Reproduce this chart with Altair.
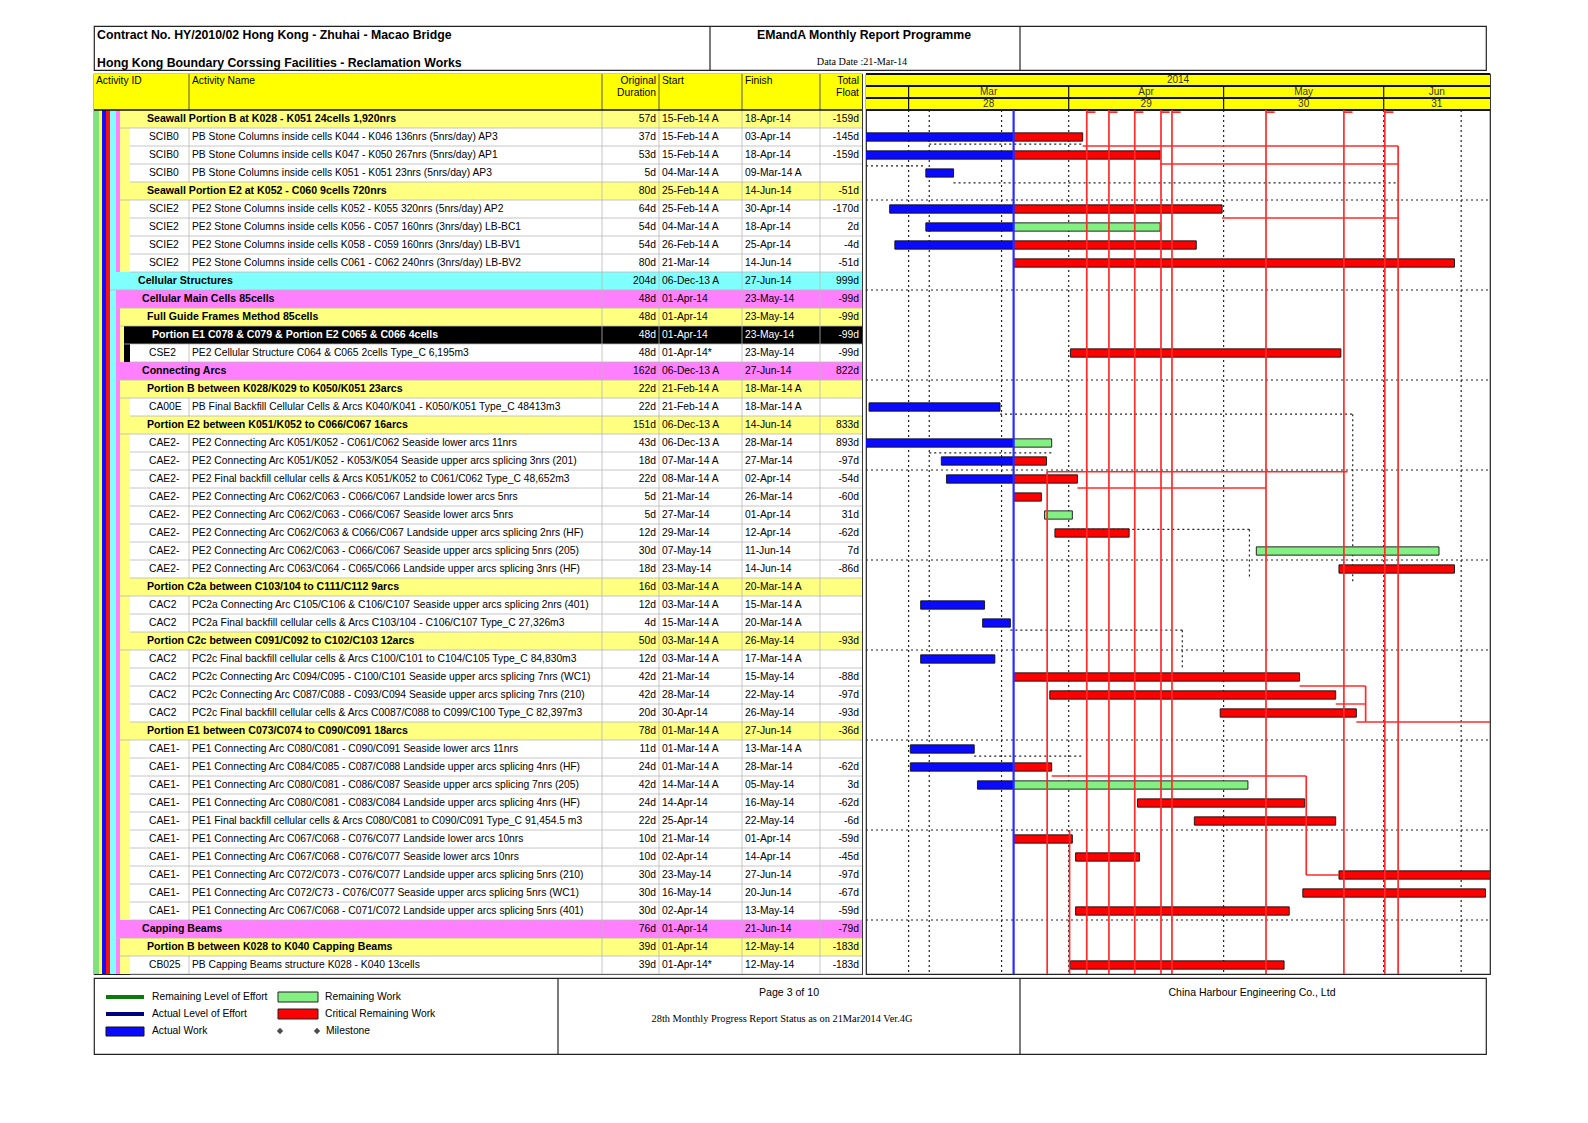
import altair as alt
import pandas as pd

SANS = "Liberation Sans"
SERIF = "Liberation Serif"

levels = [3, 5, 5, 5, 3, 5, 5, 5, 5, 1, 2, 3, 4, 5, 2, 3, 5, 3, 5, 5, 5, 5, 5, 5, 5, 5,
          3, 5, 5, 3, 5, 5, 5, 5, 3, 5, 5, 5, 5, 5, 5, 5, 5, 5, 5, 2, 3, 5]

act_ids = ["", "SCIB0", "SCIB0", "SCIB0", "", "SCIE2", "SCIE2", "SCIE2", "SCIE2",
           "", "", "", "", "CSE2", "", "", "CA00E", "",
           "CAE2-", "CAE2-", "CAE2-", "CAE2-", "CAE2-", "CAE2-", "CAE2-", "CAE2-",
           "", "CAC2", "CAC2", "", "CAC2", "CAC2", "CAC2", "CAC2", "",
           "CAE1-", "CAE1-", "CAE1-", "CAE1-", "CAE1-", "CAE1-", "CAE1-", "CAE1-", "CAE1-", "CAE1-",
           "", "", "CB025"]

names = [
    "Seawall Portion B at K028 -  K051 24cells 1,920nrs",
    "PB Stone Columns inside cells K044 - K046 136nrs (5nrs/day) AP3",
    "PB Stone Columns inside cells K047 - K050 267nrs (5nrs/day) AP1",
    "PB Stone Columns inside cells K051 - K051 23nrs (5nrs/day) AP3",
    "Seawall Portion E2 at K052 - C060 9cells 720nrs",
    "PE2 Stone Columns inside cells K052 - K055 320nrs (5nrs/day) AP2",
    "PE2 Stone Columns inside cells K056 - C057 160nrs (3nrs/day) LB-BC1",
    "PE2 Stone Columns inside cells K058 - C059 160nrs (3nrs/day) LB-BV1",
    "PE2 Stone Columns inside cells C061 - C062 240nrs (3nrs/day) LB-BV2",
    "Cellular Structures",
    "Cellular Main Cells 85cells",
    "Full Guide Frames Method 85cells",
    "Portion E1 C078 & C079 & Portion E2 C065 & C066 4cells",
    "PE2 Cellular Structure C064 & C065 2cells Type_C 6,195m3",
    "Connecting Arcs",
    "Portion B between K028/K029 to K050/K051 23arcs",
    "PB Final Backfill Cellular Cells & Arcs K040/K041 - K050/K051 Type_C 48413m3",
    "Portion E2 between K051/K052 to C066/C067 16arcs",
    "PE2 Connecting Arc K051/K052 - C061/C062 Seaside lower arcs 11nrs",
    "PE2 Connecting Arc K051/K052 - K053/K054 Seaside upper arcs splicing 3nrs (201)",
    "PE2 Final backfill cellular cells & Arcs K051/K052 to C061/C062 Type_C 48,652m3",
    "PE2 Connecting Arc C062/C063 - C066/C067 Landside lower arcs 5nrs",
    "PE2 Connecting Arc C062/C063 - C066/C067 Seaside lower arcs 5nrs",
    "PE2 Connecting Arc C062/C063 & C066/C067 Landside upper arcs splicing 2nrs (HF)",
    "PE2 Connecting Arc C062/C063 - C066/C067 Seaside upper arcs splicing 5nrs (205)",
    "PE2 Connecting Arc C063/C064 - C065/C066 Landside upper arcs splicing 3nrs (HF)",
    "Portion C2a between C103/104 to C111/C112 9arcs",
    "PC2a Connecting Arc C105/C106 & C106/C107 Seaside upper arcs splicing 2nrs (401)",
    "PC2a Final backfill cellular cells & Arcs C103/104 - C106/C107 Type_C 27,326m3",
    "Portion C2c between C091/C092 to C102/C103 12arcs",
    "PC2c Final backfill cellular cells & Arcs C100/C101 to C104/C105 Type_C 84,830m3",
    "PC2c Connecting Arc C094/C095 - C100/C101 Seaside upper arcs splicing 7nrs (WC1)",
    "PC2c Connecting Arc C087/C088 - C093/C094 Seaside upper arcs splicing 7nrs (210)",
    "PC2c Final backfill cellular cells & Arcs C0087/C088 to C099/C100 Type_C 82,397m3",
    "Portion E1 between C073/C074 to C090/C091 18arcs",
    "PE1 Connecting Arc C080/C081 - C090/C091 Seaside lower arcs 11nrs",
    "PE1 Connecting Arc C084/C085 - C087/C088 Landside upper arcs splicing 4nrs (HF)",
    "PE1 Connecting Arc C080/C081 - C086/C087 Seaside upper arcs splicing 7nrs (205)",
    "PE1 Connecting Arc C080/C081 - C083/C084 Landside upper arcs splicing 4nrs (HF)",
    "PE1 Final backfill cellular cells & Arcs C080/C081 to C090/C091 Type_C 91,454.5 m3",
    "PE1 Connecting Arc C067/C068 - C076/C077 Landside lower arcs 10nrs",
    "PE1 Connecting Arc C067/C068 - C076/C077 Seaside lower arcs 10nrs",
    "PE1 Connecting Arc C072/C073 - C076/C077 Landside upper arcs splicing 5nrs (210)",
    "PE1 Connecting Arc C072/C73 - C076/C077 Seaside upper arcs splicing 5nrs (WC1)",
    "PE1 Connecting Arc C067/C068 - C071/C072 Landside upper arcs splicing 5nrs (401)",
    "Capping Beams",
    "Portion B between K028 to K040 Capping Beams",
    "PB Capping Beams structure K028 - K040 13cells",
]

durations = ["57d", "37d", "53d", "5d", "80d", "64d", "54d", "54d", "80d", "204d", "48d", "48d",
             "48d", "48d", "162d", "22d", "22d", "151d", "43d", "18d", "22d", "5d", "5d", "12d",
             "30d", "18d", "16d", "12d", "4d", "50d", "12d", "42d", "42d", "20d", "78d", "11d",
             "24d", "42d", "24d", "22d", "10d", "10d", "30d", "30d", "30d", "76d", "39d", "39d"]

starts = ["15-Feb-14 A", "15-Feb-14 A", "15-Feb-14 A", "04-Mar-14 A", "25-Feb-14 A", "25-Feb-14 A",
          "04-Mar-14 A", "26-Feb-14 A", "21-Mar-14", "06-Dec-13 A", "01-Apr-14", "01-Apr-14",
          "01-Apr-14", "01-Apr-14*", "06-Dec-13 A", "21-Feb-14 A", "21-Feb-14 A", "06-Dec-13 A",
          "06-Dec-13 A", "07-Mar-14 A", "08-Mar-14 A", "21-Mar-14", "27-Mar-14", "29-Mar-14",
          "07-May-14", "23-May-14", "03-Mar-14 A", "03-Mar-14 A", "15-Mar-14 A", "03-Mar-14 A",
          "03-Mar-14 A", "21-Mar-14", "28-Mar-14", "30-Apr-14", "01-Mar-14 A", "01-Mar-14 A",
          "01-Mar-14 A", "14-Mar-14 A", "14-Apr-14", "25-Apr-14", "21-Mar-14", "02-Apr-14",
          "23-May-14", "16-May-14", "02-Apr-14", "01-Apr-14", "01-Apr-14", "01-Apr-14*"]

finishes = ["18-Apr-14", "03-Apr-14", "18-Apr-14", "09-Mar-14 A", "14-Jun-14", "30-Apr-14",
            "18-Apr-14", "25-Apr-14", "14-Jun-14", "27-Jun-14", "23-May-14", "23-May-14",
            "23-May-14", "23-May-14", "27-Jun-14", "18-Mar-14 A", "18-Mar-14 A", "14-Jun-14",
            "28-Mar-14", "27-Mar-14", "02-Apr-14", "26-Mar-14", "01-Apr-14", "12-Apr-14",
            "11-Jun-14", "14-Jun-14", "20-Mar-14 A", "15-Mar-14 A", "20-Mar-14 A", "26-May-14",
            "17-Mar-14 A", "15-May-14", "22-May-14", "26-May-14", "27-Jun-14", "13-Mar-14 A",
            "28-Mar-14", "05-May-14", "16-May-14", "22-May-14", "01-Apr-14", "14-Apr-14",
            "27-Jun-14", "20-Jun-14", "13-May-14", "21-Jun-14", "12-May-14", "12-May-14"]

floats = ["-159d", "-145d", "-159d", "", "-51d", "-170d", "2d", "-4d", "-51d", "999d", "-99d", "-99d",
          "-99d", "-99d", "822d", "", "", "833d", "893d", "-97d", "-54d", "-60d", "31d", "-62d",
          "7d", "-86d", "", "", "", "-93d", "", "-88d", "-97d", "-93d", "-36d", "",
          "-62d", "3d", "-62d", "-6d", "-59d", "-45d", "-97d", "-67d", "-59d", "-79d", "-183d", "-183d"]

data_date = "2014-03-21T08:00:00"

# timescale
month_starts = ["2014-03-01", "2014-04-01", "2014-05-01", "2014-06-01"]
month_ends = ["2014-04-01", "2014-05-01", "2014-06-01", "2014-07-01"]
month_names = ["Mar", "Apr", "May", "Jun"]
period_nums = ["28", "29", "30", "31"]
grid_dates = ["2014-03-01", "2014-03-05", "2014-03-19", "2014-04-01", "2014-05-01",
              "2014-06-01", "2014-06-16"]

# driving relationship lines (red)
link_v_dates = ["2014-04-04T12:00", "2014-04-08T19:00", "2014-04-13T19:00", "2014-04-18T21:00",
                "2014-04-21T00:00", "2014-05-09T05:00", "2014-05-24T07:00", "2014-06-01T05:00",
                "2014-06-03T19:00", "2014-03-27T20:00", "2014-04-01T04:00", "2014-05-28T12:00",
                "2014-05-17T00:00"]
link_v_from = [0, 0, 0, 0, 0, 0, 0, 0, 2, 20.1, 40, 32.0, 37.0]
link_v_to = [48, 48, 48, 48, 48, 48, 48, 48, 48, 48, 48, 34.0, 42.5]
link_h_rows = [2.0, 3.0, 6.0, 20.1, 21.0, 34.0, 37.0, 32.0, 33.0, 42.5]
link_h_from = ["2014-04-03T17:00", "2014-04-18T17:00", "2014-04-30T17:00", "2014-03-27T17:00",
               "2014-04-02T17:00", "2014-05-26T17:00", "2014-03-28T17:00", "2014-05-15T17:00",
               "2014-05-22T17:00", "2014-05-17T00:00"]
link_h_to = ["2014-06-03T19:00", "2014-06-03T19:00", "2014-06-03T19:00", "2014-05-25T00:00",
             "2014-05-09T05:00", "2014-06-22T00:00", "2014-05-17T00:00", "2014-05-28T12:00",
             "2014-05-28T12:00", "2014-05-23T08:00"]

# non-driving relationship lines (black dotted)
dot_h_rows = [1.9, 3.1, 4.05, 16.9, 19.05, 23.3, 28.9, 35.9]
dot_h_from = ["2014-03-05T00:00", "2014-02-20T18:00", "2014-03-09T17:00", "2014-03-18T17:00",
              "2014-03-05T00:00", "2014-04-01T17:00", "2014-03-20T17:00", "2014-03-13T17:00"]
dot_h_to = ["2014-04-03T17:00", "2014-03-04T08:00", "2014-06-03T19:00", "2014-05-26T00:00",
            "2014-03-28T17:00", "2014-05-06T00:00", "2014-04-23T00:00", "2014-04-04T00:00"]
dot_v_dates = ["2014-05-26T00:00", "2014-05-06T00:00", "2014-04-23T00:00"]
dot_v_from = [16.9, 23.3, 28.9]
dot_v_to = [26.3, 26.0, 31.0]

# ---------------- styling / layout ----------------
BLUE, RED, GREEN = "#0a0aff", "#ff0000", "#84f084"
LINKRED = "#ff2a2a"
band_fill = {1: "#80ffff", 2: "#ff80ff", 3: "#ffff80", 4: "#000000", 5: "#ffffff"}
band_x = {1: 16, 2: 22, 3: 26, 4: 30, 5: 36}
text_x = {1: 44, 2: 48, 3: 53, 4: 58}
TW, GW, MH = 768, 624, 900
FS = 10.3
ys = alt.Scale(domain=[-2, 48], reverse=True, nice=False, zero=False)
xg = alt.Scale(domain=[alt.DateTime(year=2014, month=2, date=20, hours=18),
                       alt.DateTime(year=2014, month=6, date=21, hours=14)], nice=False)
ONE = alt.Data(values=[{"a": 1}])


def iso(ts):
    return ts.strftime("%Y-%m-%dT%H:%M:%S")


def day(s):
    return pd.to_datetime(s.replace(" A", "").replace("*", "").strip(), format="%d-%b-%y")


def txt(s, x, y, size=FS, weight="normal", align="left", font=SANS, color="black"):
    return alt.Chart(ONE).mark_text(text=s, align=align, baseline="middle", fontSize=size,
                                    fontWeight=weight, font=font, color=color).encode(
        x=alt.value(x), y=alt.value(y))


def box(x0, x1, y0, y1, fill, stroke=None, sw=1.0):
    kw = {"fill": fill}
    if stroke:
        kw.update(stroke=stroke, strokeWidth=sw)
    return alt.Chart(ONE).mark_rect(**kw).encode(
        x=alt.value(x0), x2=alt.value(x1), y=alt.value(y0), y2=alt.value(y1))


def vrule(x, y0, y1, color="#222", sw=1.0):
    return alt.Chart(ONE).mark_rule(color=color, strokeWidth=sw).encode(
        x=alt.value(x), y=alt.value(y0), y2=alt.value(y1))


def hrule(x0, x1, y, color="#222", sw=1.0):
    return alt.Chart(ONE).mark_rule(color=color, strokeWidth=sw).encode(
        x=alt.value(x0), x2=alt.value(x1), y=alt.value(y))


# ---------------- build tables from the arrays ----------------
rows, strips = [], []
stack = {1: band_fill[1], 2: band_fill[2]}
for i, L in enumerate(levels):
    grp = L < 5
    fill = band_fill[L]
    anc = sorted(k for k in stack if k < L)
    for j, k in enumerate(anc):
        x1 = band_x[anc[j + 1]] if j + 1 < len(anc) else band_x[L]
        strips.append({"x0": band_x[k], "x1": x1, "y0": i, "y1": i + 1, "c": stack[k]})
    if grp:
        stack[L] = fill
        for k in list(stack):
            if k > L:
                del stack[k]
    rows.append({
        "i": i, "y0": i, "y1": i + 1, "yc": i + 0.5,
        "bx": band_x[L], "fill": fill, "grp": grp,
        "tc": "white" if L == 4 else "black",
        "gname": names[i] if grp else "", "aname": "" if grp else names[i],
        "tx": text_x.get(L, 0), "aid": act_ids[i],
        "dur": durations[i], "start": starts[i], "finish": finishes[i], "flt": floats[i],
    })
rdf = pd.DataFrame(rows)
sdf = pd.DataFrame(strips)
adf = rdf[~rdf.grp]
gdf = rdf[rdf.grp]

dd = pd.Timestamp(data_date)
bars = []
for i, L in enumerate(levels):
    if L < 5:
        continue
    s = day(starts[i]) + pd.Timedelta(hours=8)
    e = day(finishes[i]) + pd.Timedelta(hours=17)
    fl = int(floats[i][:-1]) if floats[i] else 0
    rem = RED if fl <= 0 else GREEN
    if finishes[i].endswith("A"):
        segs = [(s, e, BLUE)]
    elif starts[i].endswith("A"):
        segs = [(s, dd, BLUE), (dd, e, rem)]
    else:
        segs = [(s, e, rem)]
    for a, b, c in segs:
        bars.append({"s": iso(a), "e": iso(b), "fill": c, "y0": i + 0.27, "y1": i + 0.73})
bdf = pd.DataFrame(bars)

dom1 = pd.Timestamp("2014-06-21 14:00")
mdf = pd.DataFrame({
    "d": month_starts, "name": month_names, "per": period_nums,
    "mid": [iso(pd.Timestamp(a) + (min(pd.Timestamp(b), dom1) - pd.Timestamp(a)) / 2)
            for a, b in zip(month_starts, month_ends)],
})
gvdf = pd.DataFrame({"d": grid_dates})
ghdf = pd.DataFrame({"y": list(range(5, 48, 5))})
lvdf = pd.DataFrame({"d": link_v_dates, "y0": link_v_from, "y1": link_v_to})
lhdf = pd.DataFrame({"y": link_h_rows, "s": link_h_from, "e": link_h_to})
# short stubs at the top of lines that arrive from the previous page
stub = lvdf[lvdf.y0 == 0]
sbdf = pd.DataFrame({"y": [0.12] * len(stub), "s": list(stub.d),
                     "e": [iso(pd.Timestamp(d) + pd.Timedelta(hours=40)) for d in stub.d]})
dhdf = pd.DataFrame({"y": dot_h_rows, "s": dot_h_from, "e": dot_h_to})
dvdf = pd.DataFrame({"d": dot_v_dates, "y0": dot_v_from, "y1": dot_v_to})
ddf = pd.DataFrame({"d": [data_date]})
coldf = pd.DataFrame({"x": [508, 565, 648, 726]})
comdf = pd.DataFrame({"x0": [0, 5, 8, 12], "x1": [5, 8, 12, 16],
                      "c": ["#7ee27e", "#ffff40", "#1010ff", "#ff1010"]})

Xn = lambda f: alt.X(f, scale=None, axis=None)
Yr = lambda f: alt.Y(f, scale=ys, axis=None)
Xt = lambda f: alt.X(f, scale=xg, axis=None)

# ---------------- header ----------------
header = alt.layer(
    vrule(616, 0, 44, sw=1.2), vrule(926, 0, 44, sw=1.2),
    txt("Contract No. HY/2010/02 Hong Kong - Zhuhai - Macao Bridge", 3, 9, 12.3, "bold"),
    txt("Hong Kong Boundary Corssing Facilities - Reclamation Works", 3, 37, 12.3, "bold"),
    txt("EMandA Monthly Report Programme", 770, 9, 12.3, "bold", "center"),
    txt("Data Date :21-Mar-14", 768, 36, 10.2, "normal", "center", SERIF),
).properties(width=1392, height=44)

# ---------------- table ----------------
table = alt.layer(
    box(0, TW, 0, 36, "#ffff00"),
    alt.Chart(rdf).mark_rect().encode(x=Xn("bx:Q"), x2=alt.value(TW), y=Yr("y0:Q"), y2="y1:Q",
                                      fill=alt.Fill("fill:N", scale=None)),
    alt.Chart(sdf).mark_rect().encode(x=Xn("x0:Q"), x2="x1:Q", y=Yr("y0:Q"), y2="y1:Q",
                                      fill=alt.Fill("c:N", scale=None)),
    alt.Chart(comdf).mark_rect().encode(x=Xn("x0:Q"), x2="x1:Q", y=alt.value(36), y2=alt.value(MH),
                                        fill=alt.Fill("c:N", scale=None)),
    alt.Chart(rdf).mark_rule(color="#b8b8b8", strokeWidth=0.8).encode(
        x=Xn("bx:Q"), x2=alt.value(TW), y=Yr("y1:Q")),
    alt.Chart(coldf).mark_rule(color="#b8b8b8", strokeWidth=0.8).encode(
        x=Xn("x:Q"), y=alt.value(36), y2=alt.value(MH)),
    alt.Chart(adf).mark_rule(color="#b8b8b8", strokeWidth=0.8).encode(
        x=alt.value(95), y=Yr("y0:Q"), y2="y1:Q"),
    alt.Chart(coldf).mark_rule(color="#555", strokeWidth=1).encode(
        x=Xn("x:Q"), y=alt.value(0), y2=alt.value(36)),
    vrule(95, 0, 36, "#555"),
    hrule(0, TW, 36, "#111", 1.5),
    txt("Activity ID", 2, 7), txt("Activity Name", 98, 7),
    txt("Original", 562, 7, align="right"), txt("Duration", 562, 19, align="right"),
    txt("Start", 568, 7), txt("Finish", 651, 7),
    txt("Total", 765, 7, align="right"), txt("Float", 765, 19, align="right"),
    alt.Chart(gdf).mark_text(align="left", baseline="middle", font=SANS, fontSize=10.6,
                             fontWeight="bold").encode(
        x=Xn("tx:Q"), y=Yr("yc:Q"), text="gname:N", color=alt.Color("tc:N", scale=None)),
    alt.Chart(adf).mark_text(align="left", baseline="middle", font=SANS, fontSize=FS, limit=38).encode(
        x=alt.value(55), y=Yr("yc:Q"), text="aid:N"),
    alt.Chart(adf).mark_text(align="left", baseline="middle", font=SANS, fontSize=FS, limit=408).encode(
        x=alt.value(98), y=Yr("yc:Q"), text="aname:N"),
    alt.Chart(rdf).mark_text(align="right", baseline="middle", font=SANS, fontSize=FS).encode(
        x=alt.value(562), y=Yr("yc:Q"), text="dur:N", color=alt.Color("tc:N", scale=None)),
    alt.Chart(rdf).mark_text(align="left", baseline="middle", font=SANS, fontSize=FS).encode(
        x=alt.value(568), y=Yr("yc:Q"), text="start:N", color=alt.Color("tc:N", scale=None)),
    alt.Chart(rdf).mark_text(align="left", baseline="middle", font=SANS, fontSize=FS).encode(
        x=alt.value(651), y=Yr("yc:Q"), text="finish:N", color=alt.Color("tc:N", scale=None)),
    alt.Chart(rdf).mark_text(align="right", baseline="middle", font=SANS, fontSize=FS).encode(
        x=alt.value(765), y=Yr("yc:Q"), text="flt:N", color=alt.Color("tc:N", scale=None)),
).properties(width=TW, height=MH)

# ---------------- gantt ----------------
gantt = alt.layer(
    box(0, GW, 0, 36, "#ffff00"),
    hrule(0, GW, 0, "#111", 2), hrule(0, GW, 12, "#111", 2),
    hrule(0, GW, 24, "#111", 2), hrule(0, GW, 36, "#111", 2),
    alt.Chart(mdf).mark_rule(color="#111", strokeWidth=1.2).encode(
        x=Xt("d:T"), y=alt.value(12), y2=alt.value(36)),
    txt("2014", GW / 2, 6, 10, color="#333", align="center"),
    alt.Chart(mdf).mark_text(font=SANS, fontSize=10, color="#333", baseline="middle").encode(
        x=Xt("mid:T"), y=alt.value(18), text="name:N"),
    alt.Chart(mdf).mark_text(font=SANS, fontSize=10, color="#333", baseline="middle").encode(
        x=Xt("mid:T"), y=alt.value(30), text="per:N"),
    alt.Chart(gvdf).mark_rule(color="#222", strokeWidth=1.2, strokeDash=[2, 3]).encode(
        x=Xt("d:T"), y=alt.value(36), y2=alt.value(MH)),
    alt.Chart(ghdf).mark_rule(color="#222", strokeWidth=1.2, strokeDash=[2, 3]).encode(
        x=alt.value(0), x2=alt.value(GW), y=Yr("y:Q")),
    alt.Chart(dhdf).mark_rule(color="#222", strokeWidth=1.2, strokeDash=[2, 3], clip=True).encode(
        x=Xt("s:T"), x2="e:T", y=Yr("y:Q")),
    alt.Chart(dvdf).mark_rule(color="#222", strokeWidth=1.2, strokeDash=[2, 3], clip=True).encode(
        x=Xt("d:T"), y=Yr("y0:Q"), y2="y1:Q"),
    alt.Chart(bdf).mark_rect(stroke="#111", strokeWidth=0.9, clip=True).encode(
        x=Xt("s:T"), x2="e:T", y=Yr("y0:Q"), y2="y1:Q", fill=alt.Fill("fill:N", scale=None)),
    alt.Chart(lvdf).mark_rule(color=LINKRED, strokeWidth=1.7, clip=True).encode(
        x=Xt("d:T"), y=Yr("y0:Q"), y2="y1:Q"),
    alt.Chart(lhdf).mark_rule(color=LINKRED, strokeWidth=1.4, clip=True).encode(
        x=Xt("s:T"), x2="e:T", y=Yr("y:Q")),
    alt.Chart(sbdf).mark_rule(color=LINKRED, strokeWidth=1.7, clip=True).encode(
        x=Xt("s:T"), x2="e:T", y=Yr("y:Q")),
    alt.Chart(ddf).mark_rule(color="#2a2aff", strokeWidth=2.2).encode(
        x=Xt("d:T"), y=alt.value(36), y2=alt.value(MH)),
).properties(width=GW, height=MH)

# ---------------- footer / legend ----------------
footer = alt.layer(
    vrule(464, 0, 76, sw=1.2), vrule(926, 0, 76, sw=1.2),
    box(12, 50, 17, 21, "#0a7a0a"), txt("Remaining Level of Effort", 58, 19),
    box(12, 50, 34, 38, "#000080"), txt("Actual Level of Effort", 58, 36),
    box(12, 50, 49, 58, BLUE, "#111"), txt("Actual Work", 58, 53),
    box(184, 224, 14, 24, GREEN, "#222"), txt("Remaining Work", 231, 19),
    box(184, 224, 31, 41, RED, "#222"), txt("Critical Remaining Work", 231, 36),
    alt.Chart(ONE).mark_point(shape="diamond", filled=True, size=40, color="black").encode(
        x=alt.value(186), y=alt.value(53)),
    alt.Chart(ONE).mark_point(shape="diamond", filled=True, size=40, color="black").encode(
        x=alt.value(223), y=alt.value(53)),
    txt("Milestone", 232, 53),
    txt("Page 3 of 10", 695, 15, 10.6, align="center"),
    txt("28th Monthly Progress Report Status as on 21Mar2014 Ver.4G", 688, 41, 10.4,
        align="center", font=SERIF),
    txt("China Harbour Engineering Co., Ltd", 1158, 15, 10.5, align="center"),
).properties(width=1392, height=76)

chart = alt.vconcat(
    header, alt.hconcat(table, gantt, spacing=0), footer, spacing=0
).properties(
    padding={"left": 84, "top": 16, "right": 10, "bottom": 10}
).configure_view(stroke="#222", strokeWidth=1.2)

chart.save("out.html", embed_options={"renderer": "svg", "actions": False})
